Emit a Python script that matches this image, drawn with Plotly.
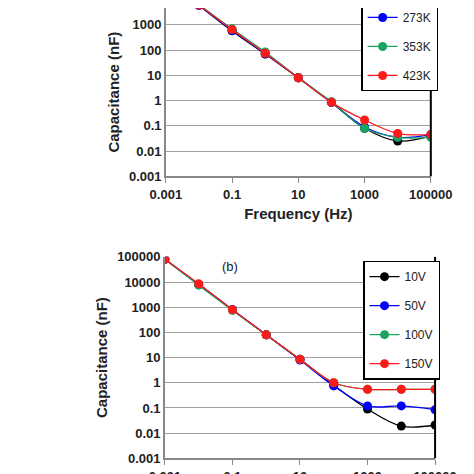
import plotly.graph_objects as go

# frequencies (Hz)
freq = [0.001, 0.01, 0.1, 1, 10, 100, 1000, 10000, 100000]

# (a) temperature series (top legend entry is cropped in the reference)
temp_names = ["223K", "273K", "353K", "423K"]
temp_vals = [
    [80000, 6000, 580, 70, 8, 0.85, 0.08, 0.025, 0.04],
    [80000, 6000, 600, 72, 8, 0.85, 0.09, 0.035, 0.045],
    [80000, 6500, 700, 85, 8, 0.9, 0.08, 0.035, 0.035],
    [80000, 6200, 650, 75, 8, 0.85, 0.17, 0.05, 0.045],
]

# (b) voltage series
volt_names = ["10V", "50V", "100V", "150V"]
volt_vals = [
    [80000, 8000, 800, 80, 8.5, 0.8, 0.09, 0.019, 0.021],
    [80000, 8000, 800, 80, 8.0, 0.75, 0.12, 0.12, 0.085],
    [80000, 7500, 750, 80, 8.5, 1.0, 0.55, 0.55, 0.55],
    [80000, 8500, 800, 80, 8.5, 1.0, 0.55, 0.55, 0.55],
]

colors = ["#000000", "#0000ff", "#1aa260", "#ff1a1a"]
font = dict(family="Arial, Liberation Sans", size=13, color="#222")

fig = go.Figure()
for name, vals, c in zip(temp_names, temp_vals, colors):
    fig.add_trace(go.Scatter(x=freq, y=vals, name=name, mode="lines+markers",
                             line=dict(color=c, width=1.3, shape="spline"),
                             marker=dict(color=c, size=9), legendgroup="a" + name,
                             xaxis="x", yaxis="y", legend="legend"))
for name, vals, c in zip(volt_names, volt_vals, colors):
    fig.add_trace(go.Scatter(x=freq, y=vals, name=name, mode="lines+markers",
                             line=dict(color=c, width=1.3, shape="spline"),
                             marker=dict(color=c, size=9), legendgroup="b" + name,
                             xaxis="x2", yaxis="y2", legend="legend2"))

xt = [0.001, 0.1, 10, 1000, 100000]
yt = [0.001, 0.01, 0.1, 1, 10, 100, 1000, 10000, 100000]
xcommon = dict(type="log", tickvals=xt, ticktext=[str(v) if v < 1 else str(int(v)) for v in xt],
               ticks="outside", ticklen=5, tickcolor="#888", showgrid=False,
               showline=True, linecolor="#888", linewidth=1.5, mirror=False,
               tickfont=dict(font, size=13, weight="bold"), range=[-3, 5])
ycommon = dict(type="log", tickvals=yt, ticktext=[str(v) if v < 1 else str(int(v)) for v in yt],
               showgrid=True, gridcolor="#a0a0a0", gridwidth=1.2,
               showline=True, linecolor="#888", linewidth=1.5, ticks="",
               tickfont=dict(font, size=13, weight="bold"),
               title=dict(text="Capacitance (nF)", font=dict(font, size=15, weight="bold"), standoff=6))

leg = dict(bgcolor="white", bordercolor="black", borderwidth=1.5, font=dict(font, size=12),
           xanchor="left", yanchor="top", tracegroupgap=10, itemwidth=30)

fig.update_layout(
    width=474, height=474, margin=dict(l=0, r=0, t=0, b=0, autoexpand=False),
    paper_bgcolor="white", plot_bgcolor="white",
    xaxis=dict(xcommon, domain=[0.333, 0.892], anchor="y",
               title=dict(text="Frequency (Hz)", font=dict(font, size=15, weight="bold"), standoff=8)),
    yaxis=dict(ycommon, domain=[0.645, 1.0], range=[-3, 3.67], anchor="x"),
    xaxis2=dict(xcommon, domain=[0.331, 0.901], anchor="y2"),
    yaxis2=dict(ycommon, domain=[0.05, 0.475], range=[-3, 5], anchor="x2"),
    legend=dict(leg, x=0.745, y=1.075),
    legend2=dict(leg, x=0.749, y=0.467),
    showlegend=True,
    annotations=[dict(text="(b)", x=0.468, y=0.455, xref="paper", yref="paper",
                      showarrow=False, font=dict(font, size=13))],
    shapes=[dict(type="line", xref="paper", yref="paper", x0=0.892, x1=0.892, y0=0.645, y1=1.0,
                 line=dict(color="black", width=2)),
            dict(type="line", xref="paper", yref="paper", x0=0.901, x1=0.901, y0=0.05, y1=0.475,
                 line=dict(color="black", width=2))],
)

fig.write_html("out.html")
